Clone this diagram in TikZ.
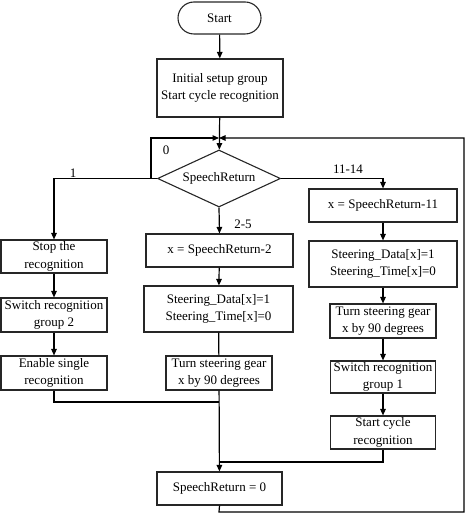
\documentclass[tikz,border=0pt]{standalone}
\usepackage{fontspec}
\setmainfont{Liberation Serif}
\usetikzlibrary{shapes.geometric,arrows.meta}
\begin{document}
\begin{tikzpicture}[x=1pt,y=-1pt,
  box/.style={draw=black!85,line width=1.1pt,rectangle,inner sep=0pt,align=center,font=\fontsize{13}{17.5}\selectfont},
  term/.style={box,rounded corners=16pt},
  dec/.style={draw=black!85,line width=1.1pt,diamond,aspect=2.16,inner sep=0pt,font=\fontsize{13}{17.5}\selectfont},
  lbl/.style={font=\fontsize{13}{17.5}\selectfont,inner sep=0pt},
  conn/.style={line width=1.2pt,black},
  arr/.style={conn,-{Triangle[length=6.5pt,width=5.5pt]}}]
\useasboundingbox (0,0) rectangle (474,521);
\node[term,minimum width=83pt,minimum height=32pt] (start) at (219.5,18) {Start};
\node[box,minimum width=126pt,minimum height=58pt] (init) at (220,88) {Initial setup group\\Start cycle recognition};
\node[dec,minimum width=123pt,minimum height=57pt] (dia) at (219,178.5) {SpeechReturn};
\node[box,minimum width=106pt,minimum height=33pt] (stop) at (54,256.5) {Stop the\\recognition};
\node[box,minimum width=106pt,minimum height=34pt] (sw2) at (54,315) {Switch recognition\\group 2};
\node[box,minimum width=106pt,minimum height=34pt] (enable) at (54,373) {Enable single\\recognition};
\node[box,minimum width=147pt,minimum height=33pt] (xs2) at (219.5,250.5) {x = SpeechReturn-2};
\node[box,minimum width=149pt,minimum height=46pt] (st1) at (218.5,309) {Steering\_Data[x]=1\\Steering\_Time[x]=0};
\node[box,minimum width=106pt,minimum height=34pt] (turn1) at (219,373) {Turn steering gear\\x by 90 degrees};
\node[box,minimum width=125pt,minimum height=33pt] (sr0) at (219.5,488.5) {SpeechReturn = 0};
\node[box,minimum width=148pt,minimum height=33pt] (xs11) at (383,205.5) {x = SpeechReturn-11};
\node[box,minimum width=148pt,minimum height=46pt] (st2) at (383,264) {Steering\_Data[x]=1\\Steering\_Time[x]=0};
\node[box,minimum width=106pt,minimum height=34pt] (turn2) at (383,321) {Turn steering gear\\x by 90 degrees};
\node[box,minimum width=105pt,minimum height=32pt] (sw1) at (383,377) {Switch recognition\\group 1};
\node[box,minimum width=105pt,minimum height=33pt] (scr) at (383,432.5) {Start cycle\\recognition};
\coordinate (j) at (219,138);
\coordinate (lc) at (151,178.5);
\coordinate (lm) at (219,402);
\coordinate (rm) at (219,462);
\coordinate (bl) at (219,512);
\coordinate (rc) at (464,512);
\node[lbl] (l0) at (166,150) {0};
\node[lbl] (l1) at (73,173) {1};
\node[lbl] (l1114) at (348,169) {11-14};
\node[lbl] (l25) at (243,224) {2-5};
\draw[arr] (start) -- (init);
\draw[arr] (init) -- (dia);
\draw[arr] (dia.west) -- (lc) |- (j);
\draw[arr] (dia.west) -| (stop.north);
\draw[arr] (dia.east) -| (xs11.north);
\draw[arr] (dia.south) -- (xs2.north);
\draw[arr] (stop) -- (sw2);
\draw[arr] (sw2) -- (enable);
\draw[arr] (xs2) -- (st1);
\draw[conn] (st1) -- (turn1);
\draw[arr] (xs11) -- (st2);
\draw[arr] (st2) -- (turn2);
\draw[arr] (turn2) -- (sw1);
\draw[arr] (sw1) -- (scr);
\draw[conn] (enable.south) |- (lm);
\draw[arr] (turn1) -- (sr0);
\draw[conn] (scr.south) |- (rm);
\draw[arr] (sr0.south) -- (bl) -- (rc) |- (j);
\end{tikzpicture}
\end{document}
